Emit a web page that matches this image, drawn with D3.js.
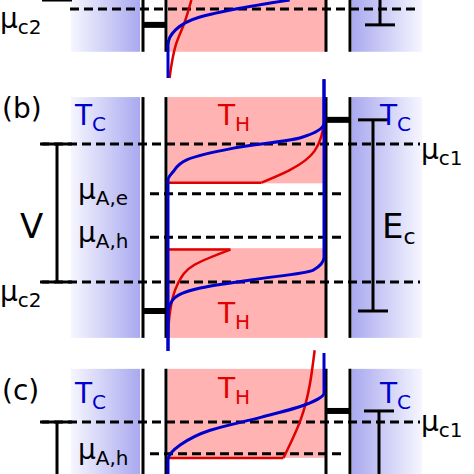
<!DOCTYPE html>
<html><head><meta charset="utf-8">
<script src="https://cdn.jsdelivr.net/npm/d3@7"></script>
<style>body{margin:0;background:#fff}text{font-family:"DejaVu Sans",sans-serif}</style>
</head><body>
<svg id="c" width="474" height="474"></svg>
<script>
// energy levels (units of the bias half-width), occupation 0..1
const panels = ['a', 'b', 'c'];
const panelCentre = {a: -60, b: 213, c: 491};   // pixel y of E = 0
const boxTop = {a: 1, b: 1.68, c: 1.77};
const boxBottom = {a: -1.62, b: -1.81, c: -2.5};
const gapEdges = {b: [0.43, -0.51], c: [0.48, -2.5]};  // red band cut out
const dashedLevels = {
    a: [{e: -1, x0: 70}],
    b: [{e: 1, x0: 40}, {e: 0.28, x0: 150, short: true}, {e: -0.35, x0: 150, short: true}, {e: -1, x0: 40}],
    c: [{e: 1, x0: 40}, {e: 0.54, x0: 150, short: true}]
};
const thickBars = {a: [{side: 'L', e: -1.23}], b: [{side: 'R', e: 1.35}, {side: 'L', e: -1.42}], c: [{side: 'R', e: 1.16}]};
const brackets = {
    a: [{x: 57, e0: 3, e1: -0.87, cap1: true}, {x: 380, e0: 3, e1: -1.23, cap1: true}],
    b: [{x: 57, e0: 1, e1: -1, cap0: true, cap1: true}, {x: 373, e0: 1.35, e1: -1.42, cap0: true, cap1: true}],
    c: [{x: 57, e0: 1, e1: -3, cap0: true}, {x: 379, e0: 1.16, e1: -3, cap0: true}]
};
const blueCurves = {
    a: [[[-2.0, 0], [-1.52, 0], [-1.30, 0.05], [-1.12, 0.2], [-0.99, 0.46], [-0.87, 0.78]]],
    b: [[[1.94, 1], [1.30, 1], [1.09, 0.85], [0.94, 0.42], [0.77, 0.12], [0.59, 0.03], [0.48, 0], [-2.0, 0]],
        [[1.94, 1], [-0.64, 1], [-0.83, 0.93], [-0.97, 0.53], [-1.09, 0.2], [-1.26, 0.03], [-1.45, 0], [-2.0, 0]]],
    c: [[[2.0, 1], [1.42, 1], [1.25, 0.88], [1.07, 0.6], [0.88, 0.27], [0.67, 0.08], [0.45, 0], [-0.3, 0]]]
};
const redCurves = {
    a: [{edge: null, pts: [[-2.0, 0.01], [-1.52, 0.05], [-1.17, 0.11], [-0.87, 0.15]]}],
    b: [{edge: [0.44, 0, 0.6], pts: [[1.30, 1], [0.9, 0.94], [0.62, 0.78], [0.44, 0.6]]},
        {edge: [-0.53, 0, 0.4], pts: [[-0.53, 0.4], [-0.75, 0.17], [-1.04, 0.06], [-1.48, 0.01], [-1.81, 0]]}],
    c: [{edge: [0.48, 0, 0.74], pts: [[2.04, 0.94], [1.03, 0.85], [0.48, 0.74]]}]
};
const labels = {
    a: [{t: 'μ', s: 'c2', x: 0, e: -1.27, c: '#000'}],
    b: [{t: '(b)', x: 2, e: 1.37, c: '#000'}, {t: 'T', s: 'C', x: 75, e: 1.27, c: '#0000cc'},
        {t: 'T', s: 'H', x: 218, e: 1.27, c: '#e00000'}, {t: 'T', s: 'C', x: 380, e: 1.27, c: '#0000cc'},
        {t: 'μ', s: 'c1', x: 421, e: 0.78, c: '#000'}, {t: 'μ', s: 'A,e', x: 78, e: 0.2, c: '#000'},
        {t: 'μ', s: 'A,h', x: 78, e: -0.42, c: '#000'}, {t: 'V', x: 20, e: -0.36, c: '#000', big: true},
        {t: 'E', s: 'c', x: 382, e: -0.36, c: '#000', big: true}, {t: 'μ', s: 'c2', x: 0, e: -1.27, c: '#000'},
        {t: 'T', s: 'H', x: 218, e: -1.6, c: '#e00000'}],
    c: [{t: '(c)', x: 2, e: 1.32, c: '#000'}, {t: 'T', s: 'C', x: 75, e: 1.27, c: '#0000cc'},
        {t: 'T', s: 'H', x: 218, e: 1.35, c: '#e00000'}, {t: 'T', s: 'C', x: 380, e: 1.27, c: '#0000cc'},
        {t: 'μ', s: 'c1', x: 421, e: 0.87, c: '#000'}, {t: 'μ', s: 'A,h', x: 78, e: 0.46, c: '#000'}]
};

const svg = d3.select('#c');
const BLUE = '#0000cc', RED = '#e00000';
const xL = {box0: 71, box1: 140, bar0: 143, bar1: 166, bar2: 326, bar3: 350, box2: 352, box3: 422};
const occ = d3.scaleLinear().domain([0, 1]).range([168, 324]);

const defs = svg.append('defs');
[['gl', '#f6f6ff', '#a9a9ef'], ['gr', '#a9a9ef', '#f6f6ff']].forEach(function (g) {
    const lg = defs.append('linearGradient').attr('id', g[0]);
    lg.append('stop').attr('offset', '0%').attr('stop-color', g[1]);
    lg.append('stop').attr('offset', '100%').attr('stop-color', g[2]);
});

panels.forEach(function (p) {
    const y = d3.scaleLinear().domain([0, 1]).range([panelCentre[p], panelCentre[p] - 69]);
    const g = svg.append('g');
    const top = y(boxTop[p]), bot = y(boxBottom[p]);

    g.append('rect').attr('x', xL.box0).attr('y', top).attr('width', xL.box1 - xL.box0).attr('height', bot - top).attr('fill', 'url(#gl)');
    g.append('rect').attr('x', xL.box2).attr('y', top).attr('width', xL.box3 - xL.box2).attr('height', bot - top).attr('fill', 'url(#gr)');
    g.append('rect').attr('x', 168).attr('y', top).attr('width', 158).attr('height', bot - top).attr('fill', '#ffb3b3');
    if (gapEdges[p])
        g.append('rect').attr('x', 168).attr('y', y(gapEdges[p][0])).attr('width', 158)
            .attr('height', y(gapEdges[p][1]) - y(gapEdges[p][0])).attr('fill', '#fff');

    dashedLevels[p].forEach(function (d) {
        g.append('line').attr('x1', d.x0).attr('x2', d.short ? 346 : 420).attr('y1', y(d.e)).attr('y2', y(d.e))
            .attr('stroke', '#000').attr('stroke-width', 3).attr('stroke-dasharray', '9,5');
    });

    [xL.bar0, xL.bar1, xL.bar2, xL.bar3].forEach(function (x) {
        g.append('line').attr('x1', x).attr('x2', x).attr('y1', top).attr('y2', bot).attr('stroke', '#000').attr('stroke-width', 3);
    });

    thickBars[p].forEach(function (d) {
        const x0 = d.side === 'L' ? xL.bar0 : xL.bar2, x1 = d.side === 'L' ? xL.bar1 : xL.bar3;
        g.append('line').attr('x1', x0).attr('x2', x1).attr('y1', y(d.e)).attr('y2', y(d.e)).attr('stroke', '#000').attr('stroke-width', 6);
    });

    brackets[p].forEach(function (d) {
        g.append('line').attr('x1', d.x).attr('x2', d.x).attr('y1', y(d.e0)).attr('y2', y(d.e1)).attr('stroke', '#000').attr('stroke-width', 3);
        if (d.cap0) g.append('line').attr('x1', d.x - 15).attr('x2', d.x + 15).attr('y1', y(d.e0)).attr('y2', y(d.e0)).attr('stroke', '#000').attr('stroke-width', 3);
        if (d.cap1) g.append('line').attr('x1', d.x - 15).attr('x2', d.x + 15).attr('y1', y(d.e1)).attr('y2', y(d.e1)).attr('stroke', '#000').attr('stroke-width', 3);
    });

    const line = d3.line().x(function (d) { return occ(d[1]); }).y(function (d) { return y(d[0]); }).curve(d3.curveMonotoneY);

    redCurves[p].forEach(function (r) {
        if (r.edge)
            g.append('line').attr('x1', occ(r.edge[1])).attr('x2', occ(r.edge[2])).attr('y1', y(r.edge[0])).attr('y2', y(r.edge[0]))
                .attr('stroke', RED).attr('stroke-width', 2.5);
        g.append('path').attr('d', line(r.pts)).attr('fill', 'none').attr('stroke', RED).attr('stroke-width', 2.5);
    });
    blueCurves[p].forEach(function (b) {
        g.append('path').attr('d', line(b)).attr('fill', 'none').attr('stroke', BLUE).attr('stroke-width', 3);
    });

    labels[p].forEach(function (d) {
        const t = g.append('text').attr('x', d.x).attr('y', y(d.e)).attr('fill', d.c)
            .style('font-size', d.big ? '34px' : '28px').text(d.t);
        if (d.s) t.append('tspan').attr('dy', '0.3em').style('font-size', d.big ? '22px' : '20px').text(d.s);
    });
});
</script>
</body></html>
